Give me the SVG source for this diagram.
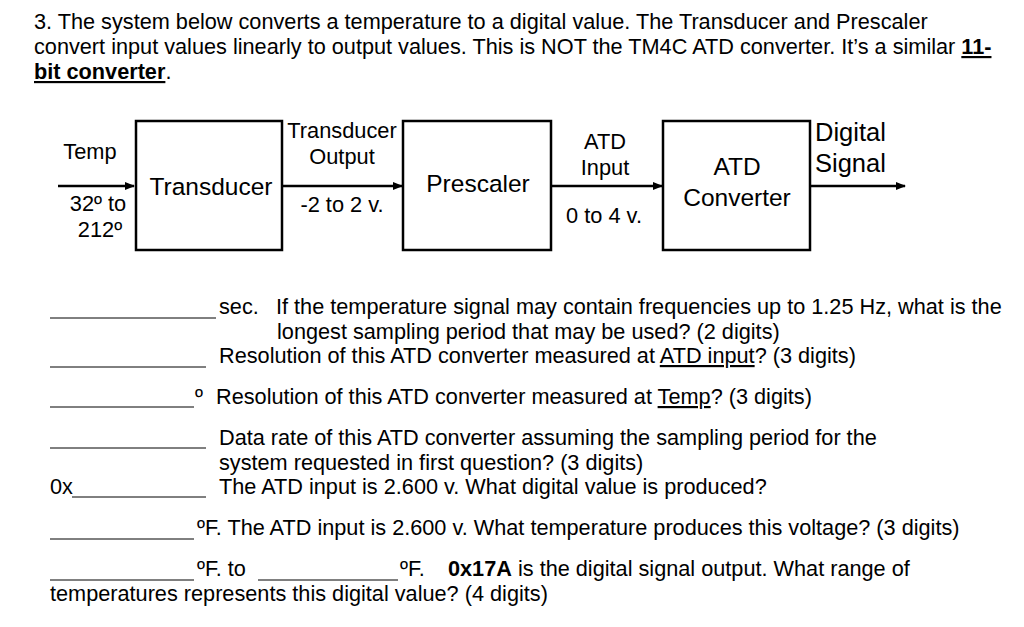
<svg xmlns="http://www.w3.org/2000/svg" width="1024" height="627" viewBox="0 0 1024 627">
<style>
text{font-family:"Liberation Sans",Arial,sans-serif;fill:#000}
.t{font-size:21.7px}
.d{font-size:24.5px}
.s{font-size:21.8px}
.b{fill:#fff;stroke:#000;stroke-width:2.5}
.c line{stroke:#000;stroke-width:2.5}
.u line{stroke:#000;stroke-width:1}
</style>
<defs><marker id="a" markerWidth="10" markerHeight="8" refX="9" refY="4" orient="auto" markerUnits="userSpaceOnUse"><path d="M0,0L10,4L0,8z"/></marker></defs>
<rect width="1024" height="627" fill="#fff"/>
<text class="t" x="34" y="29">3. The system below converts a temperature to a digital value. The Transducer and Prescaler</text>
<text class="t" x="34" y="54">convert input values linearly to output values. This is NOT the TM4C ATD converter. It’s a similar <tspan font-weight="bold" text-decoration="underline">11-</tspan></text>
<text class="t" x="34" y="79"><tspan font-weight="bold" text-decoration="underline">bit converter</tspan>.</text>
<g class="c">
<line x1="58" y1="186" x2="134" y2="186" marker-end="url(#a)"/>
<line x1="282" y1="186" x2="402" y2="186" marker-end="url(#a)"/>
<line x1="551" y1="186" x2="662" y2="186" marker-end="url(#a)"/>
<line x1="810" y1="186" x2="905" y2="186" marker-end="url(#a)"/>
</g>
<g id="transducer"><rect class="b" x="136" y="121" width="146" height="129"/><text class="d" x="211" y="195" text-anchor="middle">Transducer</text></g>
<g id="prescaler"><rect class="b" x="403" y="121" width="148" height="129"/><text class="d" x="478" y="192" text-anchor="middle">Prescaler</text></g>
<g id="atd"><rect class="b" x="663" y="121" width="147" height="129"/><text class="d" x="737" y="175" text-anchor="middle">ATD</text><text class="d" x="737" y="206" text-anchor="middle">Converter</text></g>
<g>
<text class="s" x="90" y="159" text-anchor="middle">Temp</text>
<text class="s" x="98" y="211" text-anchor="middle">32º to</text>
<text class="s" x="100" y="237" text-anchor="middle">212º</text>
<text class="s" x="342" y="138" text-anchor="middle">Transducer</text>
<text class="s" x="342" y="164" text-anchor="middle">Output</text>
<text class="s" x="342" y="212" text-anchor="middle">-2 to 2 v.</text>
<text class="s" x="605" y="149" text-anchor="middle">ATD</text>
<text class="s" x="605" y="175" text-anchor="middle">Input</text>
<text class="s" x="604" y="223" text-anchor="middle">0 to 4 v.</text>
<text x="815" y="141" font-size="25.5">Digital</text>
<text x="815" y="172" font-size="25.5">Signal</text>
</g>
<g class="u">
<line x1="50" y1="318" x2="216" y2="318"/>
<line x1="50" y1="367" x2="206" y2="367"/>
<line x1="50" y1="407" x2="194" y2="407"/>
<line x1="50" y1="448" x2="206" y2="448"/>
<line x1="72" y1="497" x2="206" y2="497"/>
<line x1="50" y1="539" x2="194" y2="539"/>
<line x1="50" y1="580" x2="194" y2="580"/>
<line x1="258" y1="580" x2="398" y2="580"/>
</g>
<text class="t" x="219" y="314">sec.</text>
<text class="t" x="276" y="314">If the temperature signal may contain frequencies up to 1.25 Hz, what is the</text>
<text class="t" x="277" y="339">longest sampling period that may be used? (2 digits)</text>
<text class="t" x="219" y="363">Resolution of this ATD converter measured at <tspan text-decoration="underline">ATD input</tspan>? (3 digits)</text>
<text class="t" x="195" y="404">º</text>
<text class="t" x="216" y="404">Resolution of this ATD converter measured at <tspan text-decoration="underline">Temp</tspan>? (3 digits)</text>
<text class="t" x="219" y="445">Data rate of this ATD converter assuming the sampling period for the</text>
<text class="t" x="219" y="470">system requested in first question? (3 digits)</text>
<text class="t" x="50" y="494">0x</text>
<text class="t" x="219" y="494">The ATD input is 2.600 v. What digital value is produced?</text>
<text class="t" x="197" y="535">ºF. The ATD input is 2.600 v. What temperature produces this voltage? (3 digits)</text>
<text class="t" x="197" y="576">ºF. to</text>
<text class="t" x="400" y="576">ºF.</text>
<text class="t" x="448" y="576"><tspan font-weight="bold">0x17A</tspan> is the digital signal output. What range of</text>
<text class="t" x="50" y="601">temperatures represents this digital value? (4 digits)</text>
</svg>
